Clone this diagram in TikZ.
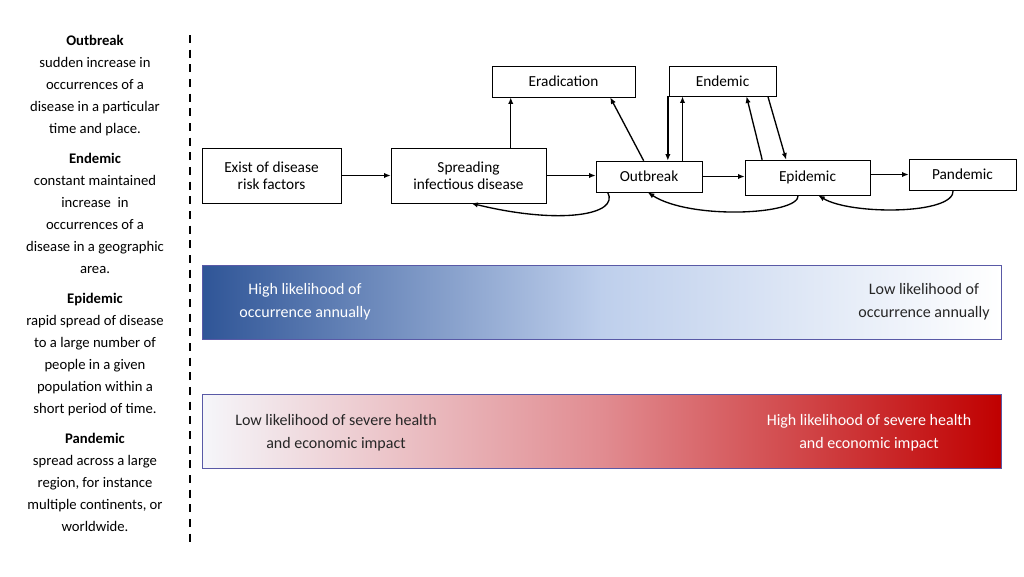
\documentclass[tikz,border=0pt]{standalone}
\usepackage{fontspec}
\setmainfont{Carlito}
\usetikzlibrary{arrows.meta}
\begin{document}
\begin{tikzpicture}[x=0.75pt,y=-0.75pt,
  bx/.style={draw,thin,align=center,inner sep=0pt,font=\fontsize{11.5}{13}\selectfont},
  ar/.style={-{Latex[length=5pt,width=4pt]},line width=1pt},
  lt/.style={align=center,font=\fontsize{11}{16.5}\selectfont},
  bt/.style={align=center,font=\fontsize{12}{17}\selectfont}]
\useasboundingbox (0,0) rectangle (1024,576);
\node[lt] (left) at (95,283) {\textbf{Outbreak}\\sudden increase in\\occurrences of a\\disease in a particular\\time and place.\\[6pt]
\textbf{Endemic}\\constant maintained\\increase\ \ in\\occurrences of a\\disease in a geographic\\area.\\[6pt]
\textbf{Epidemic}\\rapid spread of disease\\to a large number of\\people in a given\\population within a\\short period of time.\\[6pt]
\textbf{Pandemic}\\spread across a large\\region, for instance\\multiple continents, or\\worldwide.};
\coordinate (d1) at (190,35); \coordinate (d2) at (190,548);
\draw[line width=1.5pt,dash pattern=on 6pt off 5pt] (d1) -- (d2);
\node[bx,minimum width=104.25pt,minimum height=41.25pt] (exist) at (271.5,175.5) {Exist of disease\\risk factors};
\node[bx,minimum width=116.25pt,minimum height=41.25pt] (spread) at (468.5,175.5) {Spreading\\infectious disease};
\node[bx,minimum width=107.25pt,minimum height=23.25pt] (erad) at (563.5,81.5) {Eradication};
\node[bx,minimum width=80.25pt,minimum height=22.5pt] (endem) at (722.5,81) {Endemic};
\node[bx,minimum width=79.5pt,minimum height=23.25pt] (outb) at (649,176.5) {Outbreak};
\node[bx,minimum width=93.75pt,minimum height=26.25pt] (epid) at (807.5,177.5) {Epidemic};
\node[bx,minimum width=80.25pt,minimum height=23.25pt] (pand) at (962.5,174.5) {Pandemic};
\draw[ar] (exist) -- (spread);
\draw[ar] (spread) -- (outb.west|-spread);
\draw[ar] (outb) -- (epid.west|-outb);
\draw[ar] (epid.east|-pand) -- (pand);
\draw[ar] (spread.north-|erad.south west) ++(19,0) coordinate (s1) -- (s1|-erad.south);
\draw[ar] ([xshift=-4]outb.north) -- ([xshift=35]erad.south);
\draw[ar] ([xshift=-41]endem.south) -- ([xshift=-41]endem.south|-outb.north);
\draw[ar] ([xshift=-30]endem.south|-outb.north) -- ([xshift=-30]endem.south);
\draw[ar] ([xshift=-34]epid.north) -- ([xshift=18]endem.south);
\draw[ar] ([xshift=34]endem.south) -- ([xshift=-16]epid.north);
\draw[ar] ([xshift=-31]outb.south) .. controls (620,215) and (560,225) .. ([xshift=2]spread.south);
\draw[ar] ([xshift=-7]epid.south) .. controls (800,215) and (690,220) .. ([xshift=-1]outb.south);
\draw[ar] ([xshift=-7]pand.south) .. controls (955,215) and (850,215) .. ([xshift=8]epid.south);
\node[draw=blue!30!gray,thin,minimum width=599.25pt,minimum height=55.5pt,inner sep=0pt,
  shading=axis,left color={rgb,255:red,47;green,85;blue,151},right color=white,middle color={rgb,255:red,190;green,207;blue,236}] (blue) at (601.5,302) {};
\node[bt,text=white] (bl) at (305,302) {High likelihood of\\occurrence annually};
\node[bt,text=black!85] (br) at (924,302) {Low likelihood of\\occurrence annually};
\node[draw=blue!30!gray,thin,minimum width=599.25pt,minimum height=55.5pt,inner sep=0pt,
  shading=axis,left color={rgb,255:red,245;green,246;blue,250},right color={rgb,255:red,192;green,0;blue,0},middle color={rgb,255:red,225;green,140;blue,145}] (red) at (601.5,431) {};
\node[bt,text=black!85] (rl) at (336,433) {Low likelihood of severe health\\and economic impact};
\node[bt,text=white] (rr) at (869,433) {High likelihood of severe health\\and economic impact};
\end{tikzpicture}
\end{document}
